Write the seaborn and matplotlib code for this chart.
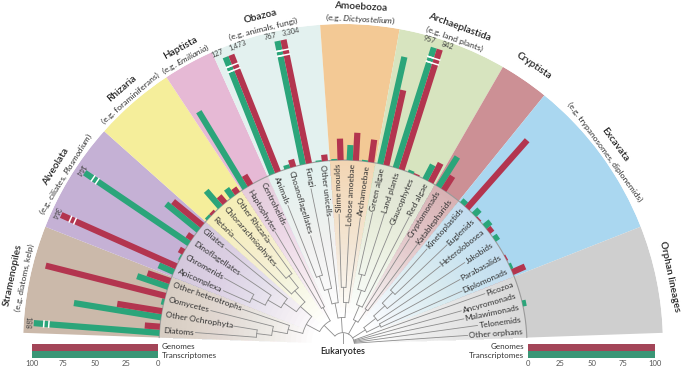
import numpy as np
import pandas as pd
import matplotlib
matplotlib.use("Agg")
import matplotlib.pyplot as plt
import seaborn as sns
from matplotlib.textpath import TextPath
from matplotlib.font_manager import FontProperties

# ---------------- data ----------------
clades = ["Stramenopiles", "Alveolata", "Rhizaria", "Haptista", "Obazoa",
          "Amoebozoa", "Archaeplastida", "Cryptista", "Excavata", "Orphan lineages"]
clade_examples = ["(e.g. diatoms, kelp)", r"(e.g. ciliates, $\mathit{Plasmodium}$)",
                  "(e.g. foraminiferans)", r"(e.g. $\mathit{Emiliania}$)",
                  "(e.g. animals, fungi)", r"(e.g. $\mathit{Dictyostelium}$)",
                  "(e.g. land plants)", "", "(e.g. trypanosomes, diplonemids)", ""]
clade_size = [4, 4, 3, 2, 4, 3, 4, 2, 6, 5]
clade_colors = ["#cbb9aa", "#c5b1d5", "#f5ee9b", "#e6b9d5", "#e3f1ef",
                "#f3c995", "#d7e4bf", "#cc9095", "#aad7f0", "#cfcfcf"]

leaves = ["Diatoms", "Other Ochrophyta", "Oomycetes", "Other heterotrophs",
          "Apicomplexa", "Chromerids", "Dinoflagellates", "Ciliates",
          "Retaria", "Chlorarachniophytes", "Other Rhizaria",
          "Haptophytes", "Centrohelids",
          "Animals", "Choanoflagellates", "Fungi", "Other unicells",
          "Slime moulds", "Lobose amoebae", "Archamoebae",
          "Green algae", "Land plants", "Glaucophytes", "Red algae",
          "Cryptomonads", "Katablepharids",
          "Kinetoplastids", "Euglenids", "Heterolobosea", "Jakobids", "Parabasalids", "Diplomonads",
          "Picozoa", "Ancyromonads", "Malawimonads", "Telonemids", "Other orphans"]
genomes = [12, 36, 98, 19, 344, 4, 5, 30, 2, 7, 5, 9, 0, 1473, 6, 3304, 5, 17, 22, 18,
           61, 842, 1, 17, 13, 0, 72, 1, 4, 0, 1, 11, 0, 0, 0, 0, 0]
transcriptomes = [188, 70, 2, 26, 13, 1, 144, 33, 2, 17, 8, 71, 0, 127, 3, 767, 1, 1, 12, 1,
                  87, 957, 2, 13, 28, 0, 4, 6, 6, 4, 0, 2, 0, 0, 3, 0, 0]

# tree topology (leaf indices)
stram = (((0, 1), 2), 3)
alv = (((4, 5), 6), 7)
rhiz = (8, (9, 10))
hapt = (11, 12)
obaz = (((13, 14), 15), 16)
amoeb = ((17, 18), 19)
arch = (((20, 21), 22), 23)
crypt = (24, 25)
exc = ((((26, 27), 28), 29), (30, 31))
tree = (((stram, (alv, rhiz)), hapt), (obaz, amoeb), (arch, crypt), exc, 32, 33, 34, 35, 36)

# ---------------- layout ----------------
SECTOR_EDGES = [178, 158.5, 138.3, 123.5, 114.2, 94.1, 79.8, 60, 51, 21.5, 2]
RMAX = 254.0          # outer edge in bar units
R0 = 146.0            # inner arc where bars start
CAP = 100             # longer bars get a break
R_ROOT, STEP = 9.0, 12.0
GREEN, RED = "#2ba57a", "#b3354f"
GREY = "#8c8c8c"
LEAF_FS, NUM_FS = 6.0, 5.2
FLIP = 94.0

sns.set_theme(style="white")
plt.rcParams["font.family"] = ["Lato", "DejaVu Sans"]
plt.rcParams["mathtext.fontset"] = "custom"
plt.rcParams["mathtext.rm"] = "Lato"
plt.rcParams["mathtext.it"] = "Lato:italic"

fig = plt.figure(figsize=(6.85, 3.7), dpi=100)
# square box: the half disc is fitted to its width and centred vertically
ax = fig.add_axes([23 / 685, -134 / 370, 640 / 685, 640 / 370], projection="polar")
ax.set_thetamin(0)
ax.set_thetamax(180)
ax.set_ylim(0, RMAX)
ax.set_axis_off()
PX_PER_UNIT = 320 / RMAX
rad = np.deg2rad

# leaf angles: evenly spread inside each clade sector
theta = []
for k, n in enumerate(clade_size):
    hi, lo = SECTOR_EDGES[k], SECTOR_EDGES[k + 1]
    step = (hi - lo) / n
    theta += [hi - (j + 0.5) * step for j in range(n)]
theta = np.array(theta)

# background sectors, fading towards the centre
for k, c in enumerate(clade_colors):
    hi, lo = rad(SECTOR_EDGES[k]), rad(SECTOR_EDGES[k + 1])
    mid, wid = (hi + lo) / 2, hi - lo
    ax.bar(mid, RMAX - R0, width=wid, bottom=R0, color=c, linewidth=0)
    for b in np.linspace(25, R0, 30)[:-1]:
        ax.bar(mid, R0 - b, width=wid, bottom=b, color=c, alpha=0.03, linewidth=0)

arc = np.linspace(rad(SECTOR_EDGES[-1]), rad(SECTOR_EDGES[0]), 300)
ax.plot(arc, np.full_like(arc, R0), color="#9a9a9a", lw=0.8)


def straight(th, d, s):
    """points of a straight line parallel to the radius at th, shifted sideways by d"""
    s = np.asarray(s, dtype=float)
    d = np.asarray(d, dtype=float)
    return rad(th) + np.arctan2(d, s), np.hypot(s, d)


BAR_W_PX = 6.2
D = BAR_W_PX / 2 / PX_PER_UNIT
BAR_LW = BAR_W_PX * 72 / 100

for i, th in enumerate(theta):
    g, t = genomes[i], transcriptomes[i]
    both_broken = g > CAP and t > CAP
    for val, sign, col in [(t, 1, GREEN), (g, -1, RED)]:
        if val <= 0:
            continue
        shown = min(val, CAP)
        tt, rr = straight(th, [sign * D] * 2, [R0, R0 + shown])
        ax.plot(tt, rr, color=col, lw=BAR_LW, solid_capstyle="butt")
        if val > CAP:
            for s in (R0 + 88, R0 + 92):
                if both_broken:
                    dd = [-2 * D - 0.5, 2 * D + 0.5]
                else:
                    dd = [sign * D - D - 0.5, sign * D + D + 0.5]
                tb, rb = straight(th, dd, [s, s])
                ax.plot(tb, rb, color="white", lw=1.1, solid_capstyle="butt")
            tl, rl = straight(th, sign * D, R0 + CAP + 5)
            if th > 135:
                rot, ha = th - 270, "center"
            else:
                rot = th - 90
                ha = ("right" if sign > 0 else "left") if both_broken else "center"
            ax.text(tl, rl, f"{val:,}", fontsize=NUM_FS, color="#444444", rotation=rot,
                    rotation_mode="anchor", ha=ha, va="center")

# leaf labels
fp = FontProperties(family="Lato", size=LEAF_FS)
label_end = []
for i, (name, th) in enumerate(zip(leaves, theta)):
    if th > FLIP:
        ax.text(rad(th), R0 - 3, name, fontsize=LEAF_FS, color="#333333", rotation=th - 180,
                rotation_mode="anchor", ha="left", va="center")
    else:
        ax.text(rad(th), R0 - 3, name, fontsize=LEAF_FS, color="#333333", rotation=th,
                rotation_mode="anchor", ha="right", va="center")
    w_px = TextPath((0, 0), name, prop=fp).get_extents().width * 100 / 72
    label_end.append(R0 - 3 - w_px / PX_PER_UNIT - 2)

# dendrogram
def draw(node, depth):
    if isinstance(node, int):
        return theta[node], label_end[node]
    kids = [draw(c, depth + 1) for c in node]
    ths = [k[0] for k in kids]
    r = min(R_ROOT + depth * STEP, min(k[1] for k in kids) - 4)
    a = np.linspace(rad(min(ths)), rad(max(ths)), 80)
    ax.plot(a, np.full_like(a, r), color=GREY, lw=0.6)
    for kt, kr in kids:
        ax.plot([rad(kt)] * 2, [r, kr], color=GREY, lw=0.6)
    return (min(ths) + max(ths)) / 2, r


root_th, root_r = draw(tree, 0)
ax.plot([rad(90)] * 2, [0, R_ROOT], color=GREY, lw=0.6)

# clade names around the outside
for k, (name, ex) in enumerate(zip(clades, clade_examples)):
    mid = (SECTOR_EDGES[k] + SECTOR_EDGES[k + 1]) / 2
    r_name = 265 if ex == "" and name.startswith("Orphan") else 268
    ax.text(rad(mid), r_name, name, fontsize=7.2, fontweight="semibold", color="#222222",
            rotation=mid - 90, rotation_mode="anchor", ha="center", va="center")
    if ex:
        ax.text(rad(mid), 258, ex, fontsize=6.1, color="#333333",
                rotation=mid - 90, rotation_mode="anchor", ha="center", va="center")

fig.text(343 / 685, 1 - 352 / 370, "Eukaryotes", fontsize=6.5,
         fontweight="semibold", color="#222222", ha="center", va="center")

# scale legends
legend_df = pd.DataFrame({"series": ["Genomes", "Transcriptomes"], "value": [100, 100]})
for rect, flip in [([32 / 685, 12 / 370, 126 / 685, 14 / 370], True),
                   ([528 / 685, 12 / 370, 127 / 685, 14 / 370], False)]:
    lax = fig.add_axes(rect)
    sns.barplot(data=legend_df, x="value", y="series", hue="series", palette=[RED, GREEN],
                orient="h", width=1.0, ax=lax, legend=False, linewidth=0)
    lax.set_xlim((100, 0) if flip else (0, 100))
    lax.set_xticks([0, 25, 50, 75, 100])
    lax.tick_params(axis="x", length=0, pad=1.5, labelsize=5.5, labelcolor="#555555")
    lax.set_yticks([])
    lax.set_xlabel("")
    lax.set_ylabel("")
    sns.despine(ax=lax, left=True, bottom=True)
    for j, lab in enumerate(legend_df["series"]):
        if flip:
            lax.text(1.03, 0.8 - 0.6 * j, lab, transform=lax.transAxes, fontsize=5.8,
                     color="#333333", ha="left", va="center")
        else:
            lax.text(-0.03, 0.8 - 0.6 * j, lab, transform=lax.transAxes, fontsize=5.8,
                     color="#333333", ha="right", va="center")

fig.savefig("out.png", dpi=100)
